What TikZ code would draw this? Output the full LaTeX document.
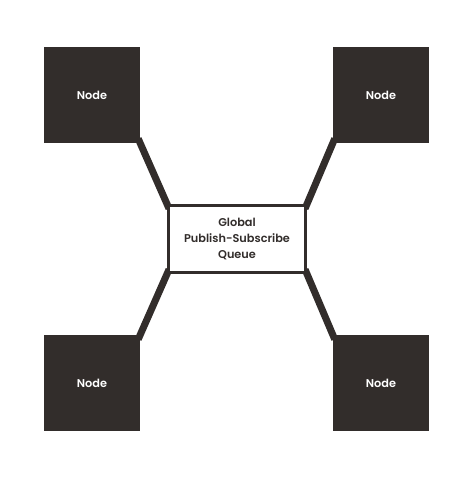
\documentclass[tikz,border=0pt]{standalone}
\usepackage{fontspec}
\setmainfont{Poppins}[BoldFont={Poppins SemiBold}]
\usepackage{tikz}
\usetikzlibrary{positioning, backgrounds}
\definecolor{nodedark}{HTML}{322D2B}
\tikzset{
    peer/.style={rectangle, fill=nodedark, text=white, font=\bfseries\fontsize{11.3}{16}\selectfont, minimum size=96pt, inner sep=0pt},
    queue/.style={rectangle, draw=nodedark, line width=3pt, fill=white, text=nodedark, align=center, font=\bfseries\fontsize{11.3}{16}\selectfont, minimum width=137pt, minimum height=67pt, inner sep=0pt},
    link/.style={draw=nodedark, line width=7pt, shorten <=-5pt, shorten >=-5pt}
}
\begin{document}
\begin{tikzpicture}[x=1pt, y=-1pt]
        \useasboundingbox (0,0) rectangle (474,479);
        % Central queue
        \node (Q) [queue] at (237, 239) {Global\\Publish-Subscribe\\Queue};

        % Peer nodes
        \node (P_tl) [peer] at (92, 95) {Node};
        \node (P_tr) [peer] at (381, 95) {Node};
        \node (P_bl) [peer] at (92, 383) {Node};
        \node (P_br) [peer] at (381, 383) {Node};

        % Links to the queue
        \begin{scope}[on background layer]
        \draw[link] (P_tl.south east) -- (Q.north west);
        \draw[link] (P_tr.south west) -- (Q.north east);
        \draw[link] (P_bl.north east) -- (Q.south west);
        \draw[link] (P_br.north west) -- (Q.south east);
        \end{scope}
    \end{tikzpicture}
\end{document}
